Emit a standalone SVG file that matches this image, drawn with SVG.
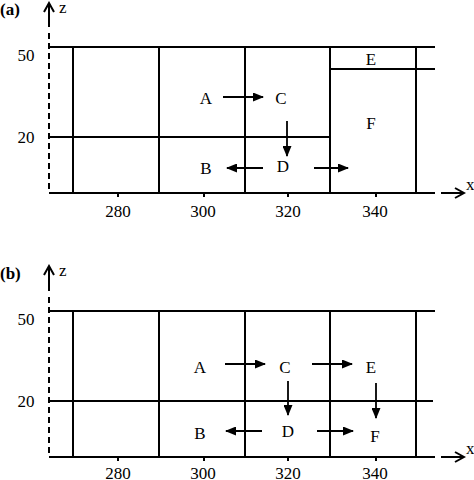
<svg xmlns="http://www.w3.org/2000/svg" width="474" height="480" viewBox="0 0 474 480">
<style>
.ln{stroke:#000;stroke-width:2;fill:none}
.ax{stroke:#000;stroke-width:2;fill:none}
.dash{stroke:#000;stroke-width:2;stroke-dasharray:6,4;fill:none}
.ar{stroke:#000;stroke-width:1.8;fill:none;marker-end:url(#ah)}
.t{font-family:"Liberation Serif","Times New Roman",serif;font-size:17px;fill:#000}
.m{text-anchor:middle}
.b{font-weight:bold}
</style>
<defs>
<marker id="ah" markerWidth="11" markerHeight="9" refX="10" refY="4.5" orient="auto" markerUnits="userSpaceOnUse">
<path d="M0,0 L11,4.5 L0,9 Z" fill="#000"/>
</marker>
<marker id="oh" markerWidth="12" markerHeight="12" refX="10" refY="6" orient="auto" markerUnits="userSpaceOnUse">
<path d="M1,1 L10,6 L1,11" fill="none" stroke="#000" stroke-width="2"/>
</marker>
</defs>

<g id="panel-a">
<text class="t b" x="0" y="15">(a)</text>
<g id="axes-a">
<line class="ax" x1="49" y1="27" x2="49" y2="3" marker-end="url(#oh)"/>
<text class="t" x="59" y="13">z</text>
<line class="dash" x1="49" y1="33" x2="49" y2="193"/>
<line class="ax" x1="49" y1="137" x2="53" y2="137"/>
<line class="ax" x1="441" y1="193" x2="464" y2="193" marker-end="url(#oh)"/>
<text class="t" x="466" y="190">x</text>
<text class="t m" x="26" y="61">50</text>
<text class="t m" x="26" y="143">20</text>
<line class="ax" x1="118" y1="193" x2="118" y2="197"/>
<line class="ax" x1="204" y1="193" x2="204" y2="197"/>
<line class="ax" x1="288" y1="193" x2="288" y2="197"/>
<line class="ax" x1="376" y1="193" x2="376" y2="197"/>
<text class="t m" x="118" y="217">280</text>
<text class="t m" x="203" y="217">300</text>
<text class="t m" x="288" y="217">320</text>
<text class="t m" x="375" y="217">340</text>
</g>
<g id="grid-a">
<line class="ln" x1="49" y1="47" x2="435" y2="47"/>
<line class="ln" x1="330" y1="69" x2="435" y2="69"/>
<line class="ln" x1="49" y1="137" x2="330" y2="137"/>
<line class="ln" x1="49" y1="193" x2="435" y2="193"/>
<line class="ln" x1="73" y1="47" x2="73" y2="193"/>
<line class="ln" x1="159" y1="47" x2="159" y2="193"/>
<line class="ln" x1="245" y1="47" x2="245" y2="193"/>
<line class="ln" x1="330" y1="47" x2="330" y2="193"/>
<line class="ln" x1="416" y1="47" x2="416" y2="193"/>
</g>
<g id="a-A"><text class="t m" x="206" y="104">A</text></g>
<g id="a-C"><text class="t m" x="281" y="104">C</text></g>
<g id="a-B"><text class="t m" x="206" y="174">B</text></g>
<g id="a-D"><text class="t m" x="283" y="172">D</text></g>
<g id="a-E"><text class="t m" x="371" y="65">E</text></g>
<g id="a-F"><text class="t m" x="371" y="129">F</text></g>
<g id="connectors-a">
<line class="ar" x1="223" y1="97" x2="263" y2="97"/>
<line class="ar" x1="287" y1="121" x2="287" y2="156"/>
<line class="ar" x1="263" y1="168" x2="227" y2="168"/>
<line class="ar" x1="314" y1="168" x2="348" y2="168"/>
</g>
</g>

<g id="panel-b">
<text class="t b" x="0" y="279">(b)</text>
<g id="axes-b">
<line class="ax" x1="49" y1="291" x2="49" y2="266" marker-end="url(#oh)"/>
<text class="t" x="59" y="276">z</text>
<line class="dash" x1="49" y1="297" x2="49" y2="457"/>
<line class="ax" x1="49" y1="401" x2="53" y2="401"/>
<line class="ax" x1="441" y1="457" x2="464" y2="457" marker-end="url(#oh)"/>
<text class="t" x="466" y="454">x</text>
<text class="t m" x="26" y="325">50</text>
<text class="t m" x="26" y="407">20</text>
<line class="ax" x1="118" y1="457" x2="118" y2="461"/>
<line class="ax" x1="204" y1="457" x2="204" y2="461"/>
<line class="ax" x1="288" y1="457" x2="288" y2="461"/>
<line class="ax" x1="376" y1="457" x2="376" y2="461"/>
<text class="t m" x="118" y="479">280</text>
<text class="t m" x="203" y="479">300</text>
<text class="t m" x="288" y="479">320</text>
<text class="t m" x="375" y="479">340</text>
</g>
<g id="grid-b">
<line class="ln" x1="49" y1="311" x2="435" y2="311"/>
<line class="ln" x1="49" y1="401" x2="433" y2="401"/>
<line class="ln" x1="49" y1="457" x2="435" y2="457"/>
<line class="ln" x1="73" y1="311" x2="73" y2="457"/>
<line class="ln" x1="159" y1="311" x2="159" y2="457"/>
<line class="ln" x1="245" y1="311" x2="245" y2="457"/>
<line class="ln" x1="330" y1="311" x2="330" y2="457"/>
<line class="ln" x1="416" y1="311" x2="416" y2="457"/>
</g>
<g id="b-A"><text class="t m" x="200" y="373">A</text></g>
<g id="b-C"><text class="t m" x="285" y="373">C</text></g>
<g id="b-E"><text class="t m" x="371" y="373">E</text></g>
<g id="b-B"><text class="t m" x="200" y="439">B</text></g>
<g id="b-D"><text class="t m" x="288" y="437">D</text></g>
<g id="b-F"><text class="t m" x="375" y="442">F</text></g>
<g id="connectors-b">
<line class="ar" x1="225" y1="364" x2="265" y2="364"/>
<line class="ar" x1="312" y1="364" x2="352" y2="364"/>
<line class="ar" x1="288" y1="381" x2="288" y2="415"/>
<line class="ar" x1="376" y1="383" x2="376" y2="418"/>
<line class="ar" x1="262" y1="431" x2="226" y2="431"/>
<line class="ar" x1="317" y1="431" x2="353" y2="431"/>
</g>
</g>
</svg>
